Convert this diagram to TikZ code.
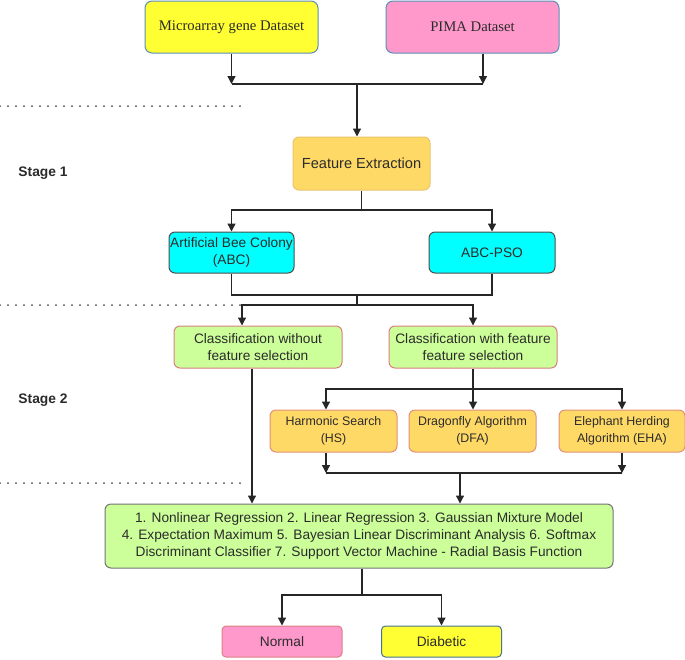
\documentclass[tikz,border=0pt]{standalone}
\usepackage{fontspec}
\setmainfont{Liberation Sans}
\newfontfamily\timesfont{Liberation Serif}
\usepackage{tikz}
\usetikzlibrary{arrows.meta,calc}

\definecolor{txtgray}{HTML}{2B2B2B}
\definecolor{lemon}{HTML}{FFFF33}
\definecolor{rosa}{HTML}{FF99CC}
\definecolor{gold}{HTML}{FFD966}
\definecolor{aqua}{HTML}{00FFFF}
\definecolor{lime}{HTML}{CCFF99}
\definecolor{blueline}{HTML}{5B8FB9}
\definecolor{redline}{HTML}{D98080}
\definecolor{orangeline}{HTML}{E0907A}
\definecolor{goldline}{HTML}{E8C46A}

\begin{document}
\begin{tikzpicture}[x=1pt,y=-1pt, line width=1.3pt,
        box/.style={draw, rounded corners=6pt, line width=1pt, align=center, text=txtgray,
                    inner sep=0pt, font=\fontsize{13.7pt}{17pt}\selectfont},
        datasetbox/.style={box, rounded corners=7pt, minimum width=173pt, minimum height=52pt,
                    font=\timesfont\fontsize{14.7pt}{17pt}\selectfont},
        algobox/.style={box, fill=gold, draw=orangeline, minimum width=127pt, minimum height=42pt,
                    font=\fontsize{12.4pt}{16.7pt}\selectfont},
        classbox/.style={box, fill=lime, draw=redline, minimum width=168pt, minimum height=42pt},
        outbox/.style={box, rounded corners=4pt, minimum width=120pt, minimum height=31pt},
        stage/.style={font=\bfseries\fontsize{13.8pt}{16pt}\selectfont, text=txtgray},
        wire/.style={draw=black!85},
        arr/.style={wire, -{Triangle[length=8pt,width=8pt]}},
        dotline/.style={draw=black!70, line width=2pt, line cap=round, dash pattern=on 0pt off 8pt}]
    \useasboundingbox (0,0) rectangle (685,659);
    % nodes
    \node[datasetbox, fill=lemon, draw=blueline] (micro) at (231.5,27) {Microarray gene Dataset};
    \node[datasetbox, fill=rosa, draw=blueline] (pima) at (472.5,27) {PIMA Dataset};
    \node[box, fill=gold, draw=goldline, minimum width=137pt, minimum height=53pt,
          font=\fontsize{14.6pt}{17pt}\selectfont] (feat) at (361.5,163.5) {Feature Extraction};
    \node[box, fill=aqua, draw=black!70, minimum width=125pt, minimum height=41pt] (abc) at (231.5,252.5) {Artificial Bee Colony\\(ABC)};
    \node[box, fill=aqua, draw=black!70, minimum width=126pt, minimum height=41pt] (pso) at (492,252.5) {ABC-PSO};
    \node[classbox] (cwo) at (258,347) {Classification without\\feature selection};
    \node[classbox] (cw) at (473,347) {Classification with feature\\feature selection};
    \node[algobox] (hs) at (333.5,431) {Harmonic Search\\(HS)};
    \node[algobox] (dfa) at (472.5,431) {Dragonfly Algorithm\\(DFA)};
    \node[algobox, minimum width=126pt] (eha) at (622,431) {Elephant Herding\\Algorithm (EHA)};
    \node[box, fill=lime, draw=black!55, minimum width=508pt, minimum height=64pt] (models) at (359,536)
        {1. Nonlinear Regression 2. Linear Regression 3. Gaussian Mixture Model\\
         4. Expectation Maximum 5. Bayesian Linear Discriminant Analysis 6. Softmax\\
         Discriminant Classifier 7. Support Vector Machine - Radial Basis Function};
    \node[outbox, fill=rosa, draw=redline] (normal) at (282,641.5) {Normal};
    \node[outbox, fill=lemon, draw=blueline!80!black] (diab) at (441.5,641.5) {Diabetic};
    \node[stage] (st1) at (43,173) {Stage 1};
    \node[stage] (st2) at (43,400) {Stage 2};
    % junctions
    \coordinate (j1) at (357,84);
    \coordinate (j2) at (361.5,210);
    \coordinate (j3) at (357,295);
    \coordinate (j4) at (357,305);
    \coordinate (j5) at (473,389);
    \coordinate (j6) at (460,473);
    \coordinate (j7) at (362,595);
    % stage separators
    \draw[dotline] (0,106) -- (247,106);
    \draw[dotline] (0,305) -- (240,305);
    \draw[dotline] (0,483) -- (240,483);
    % connectors
    \draw[arr] (micro.south) -- (micro.south |- j1);
    \draw[arr] ([xshift=10.5pt]pima.south) -- ([xshift=10.5pt]pima.south |- j1);
    \draw[wire] (micro.south |- j1) -- ([xshift=10.5pt]pima.south |- j1);
    \draw[arr] (j1) -- (j1 |- feat.north);
    \draw[wire] (feat.south) -- (j2);
    \draw[arr] (j2) -| (abc.north);
    \draw[arr] (j2) -| (pso.north);
    \draw[wire] (abc.south) |- (j3) -| (pso.south);
    \draw[wire] (j3) -- (j4);
    \draw[arr] (j4) -| ([xshift=-16pt]cwo.north);
    \draw[arr] (j4) -| (cw.north);
    \draw[wire] (cw.south) -- (j5);
    \draw[arr] (j5) -| ([xshift=-7.5pt]hs.north);
    \draw[arr] (j5) -- (j5 |- dfa.north);
    \draw[arr] (j5) -| (eha.north);
    \draw[arr] ([xshift=-7.5pt]hs.south) -- ([xshift=-7.5pt]hs.south |- j6);
    \draw[arr] (eha.south) -- (eha.south |- j6);
    \draw[wire] ([xshift=-7.5pt]hs.south |- j6) -- (eha.south |- j6);
    \draw[arr] (j6) -- (j6 |- models.north);
    \draw[arr] ([xshift=-6pt]cwo.south) -- ([xshift=-6pt]cwo.south |- models.north);
    \draw[wire] ([xshift=3pt]models.south) -- (j7);
    \draw[arr] (j7) -| (normal.north);
    \draw[arr] (j7) -| (diab.north);
\end{tikzpicture}
\end{document}
